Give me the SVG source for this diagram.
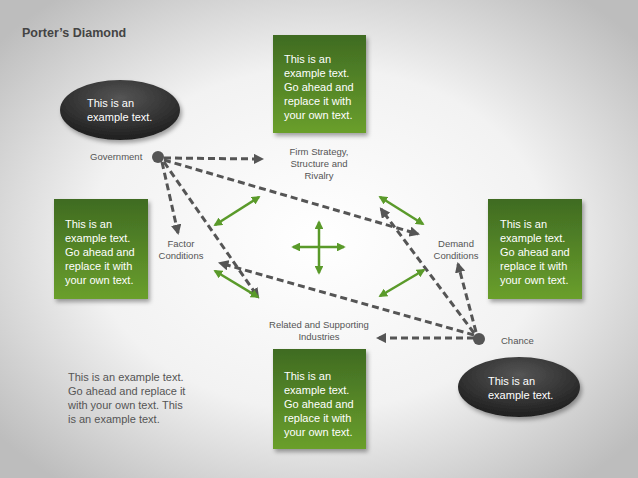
<svg xmlns="http://www.w3.org/2000/svg" width="638" height="478" viewBox="0 0 638 478">
<defs>
<radialGradient id="bg" cx="50%" cy="50%" r="65%"><stop offset="0" stop-color="#ffffff"/><stop offset="0.55" stop-color="#f2f2f2"/><stop offset="1" stop-color="#bdbdbd"/></radialGradient>
<linearGradient id="gr" x1="0" y1="0" x2="0" y2="1"><stop offset="0" stop-color="#3f6b22"/><stop offset="1" stop-color="#6a9f2c"/></linearGradient>
<radialGradient id="el" cx="50%" cy="30%" r="70%"><stop offset="0" stop-color="#555"/><stop offset="1" stop-color="#1e1e1e"/></radialGradient>
<marker id="ad" viewBox="0 0 10 10" refX="8" refY="5" markerWidth="3.5" markerHeight="3.5" orient="auto-start-reverse"><path d="M0,0L10,5L0,10z" fill="#555"/></marker>
<marker id="ag" viewBox="0 0 10 10" refX="8" refY="5" markerWidth="3.5" markerHeight="3.5" orient="auto-start-reverse"><path d="M0,0L10,5L0,10z" fill="#5a9a2a"/></marker>
<filter id="sh" x="-20%" y="-20%" width="140%" height="140%"><feDropShadow dx="2" dy="3" stdDeviation="2" flood-opacity="0.35"/></filter>
</defs>
<style>
text{font-family:"Liberation Sans",Arial,sans-serif}
.w{fill:#fff;font-size:11px}
.g{fill:#555;font-size:9.5px}
.d{stroke:#555;stroke-width:3;stroke-dasharray:7,4;fill:none;marker-end:url(#ad)}
.gl{stroke:#5a9a2a;stroke-width:2.5;fill:none;marker-end:url(#ag);marker-start:url(#ag)}
.box{fill:url(#gr);filter:url(#sh)}
</style>
<rect width="638" height="478" fill="url(#bg)"/>
<text x="22" y="37" font-size="12.5" font-weight="bold" fill="#444">Porter’s Diamond</text>
<g id="connectors">
<path class="d" d="M164,158L262,159"/>
<path class="d" d="M164,160L418,234"/>
<path class="d" d="M162,162L178,233"/>
<path class="d" d="M164,162L258,297"/>
<path class="d" d="M474,338L378,338"/>
<path class="d" d="M474,335L220,263"/>
<path class="d" d="M474,333L381,209"/>
<path class="d" d="M476,332L458,264"/>
<path class="gl" d="M215,225L259,197"/>
<path class="gl" d="M215,271L258,297"/>
<path class="gl" d="M380,296L424,270"/>
<path class="gl" d="M380,197L423,224"/>
<path class="gl" d="M319,222L319,273"/>
<path class="gl" d="M293,247L344,247"/>
</g>
<g id="gov"><circle cx="158" cy="157" r="6" fill="#555"/><text class="g" x="90" y="160">Government</text></g>
<g id="chance"><circle cx="479" cy="339" r="6" fill="#555"/><text class="g" x="501" y="344">Chance</text></g>
<g id="firm"><text class="g" text-anchor="middle"><tspan x="319" y="155">Firm Strategy,</tspan><tspan x="319" y="167">Structure and</tspan><tspan x="319" y="179">Rivalry</tspan></text></g>
<g id="factor"><text class="g" text-anchor="middle"><tspan x="181" y="247">Factor</tspan><tspan x="181" y="259">Conditions</tspan></text></g>
<g id="demand"><text class="g" text-anchor="middle"><tspan x="456" y="247">Demand</tspan><tspan x="456" y="259">Conditions</tspan></text></g>
<g id="related"><text class="g" text-anchor="middle"><tspan x="319" y="328">Related and Supporting</tspan><tspan x="319" y="340">Industries</tspan></text></g>
<g id="boxTop"><rect class="box" x="273" y="35" width="93" height="98"/><text class="w"><tspan x="284" y="63">This is an</tspan><tspan x="284" y="77">example text.</tspan><tspan x="284" y="91">Go ahead and</tspan><tspan x="284" y="105">replace it with</tspan><tspan x="284" y="119">your own text.</tspan></text></g>
<g id="boxLeft"><rect class="box" x="54" y="199" width="94" height="100"/><text class="w"><tspan x="65" y="228">This is an</tspan><tspan x="65" y="242">example text.</tspan><tspan x="65" y="256">Go ahead and</tspan><tspan x="65" y="270">replace it with</tspan><tspan x="65" y="284">your own text.</tspan></text></g>
<g id="boxRight"><rect class="box" x="488" y="199" width="94" height="100"/><text class="w"><tspan x="500" y="228">This is an</tspan><tspan x="500" y="242">example text.</tspan><tspan x="500" y="256">Go ahead and</tspan><tspan x="500" y="270">replace it with</tspan><tspan x="500" y="284">your own text.</tspan></text></g>
<g id="boxBottom"><rect class="box" x="273" y="349" width="93" height="100"/><text class="w"><tspan x="284" y="380">This is an</tspan><tspan x="284" y="394">example text.</tspan><tspan x="284" y="408">Go ahead and</tspan><tspan x="284" y="422">replace it with</tspan><tspan x="284" y="436">your own text.</tspan></text></g>
<g id="ellTop"><ellipse cx="120" cy="110" rx="60" ry="30" fill="url(#el)" filter="url(#sh)"/><text class="w"><tspan x="87" y="107">This is an</tspan><tspan x="87" y="121">example text.</tspan></text></g>
<g id="ellBottom"><ellipse cx="519" cy="387" rx="61" ry="30" fill="url(#el)" filter="url(#sh)"/><text class="w"><tspan x="488" y="385">This is an</tspan><tspan x="488" y="399">example text.</tspan></text></g>
<g id="note"><text fill="#555" font-size="11"><tspan x="68" y="381">This is an example text.</tspan><tspan x="68" y="395">Go ahead and replace it</tspan><tspan x="68" y="409">with your own text. This</tspan><tspan x="68" y="423">is an example text.</tspan></text></g>
</svg>
